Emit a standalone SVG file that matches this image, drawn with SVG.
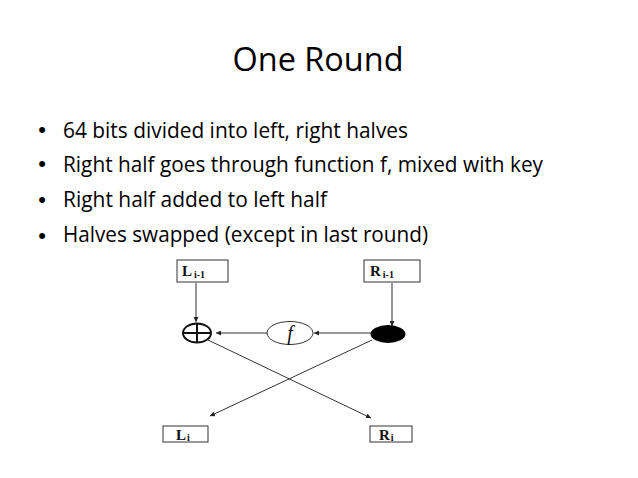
<svg xmlns="http://www.w3.org/2000/svg" width="638" height="478" viewBox="0 0 638 478">
<defs>
<marker id="arr" viewBox="0 0 6 6" refX="6" refY="3" markerWidth="5" markerHeight="5" orient="auto" markerUnits="userSpaceOnUse">
<path d="M0,0 L6,3 L0,6 z" fill="#222"/>
</marker>
<style>
.title{font-family:"Open Sans","Liberation Sans",sans-serif;font-size:32px;fill:#000}
.body{font-family:"Open Sans","Liberation Sans",sans-serif;font-size:21px;fill:#000}
.bul{font-family:"Liberation Sans",sans-serif;font-size:22px;fill:#000}
.box{fill:#fff;stroke:#333;stroke-width:1}
.lbl{font-family:"Liberation Serif",serif;font-size:15px;fill:#111;font-weight:bold}
.sub{font-size:10px}
.ln{stroke:#333;stroke-width:1;fill:none}
</style>
</defs>
<rect width="638" height="478" fill="#fff"/>
<text class="title" x="318" y="71" text-anchor="middle" textLength="171" lengthAdjust="spacingAndGlyphs">One Round</text>
<g id="bullets">
<text class="bul" x="42" y="137" text-anchor="middle">•</text>
<text class="body" x="63" y="138" textLength="345" lengthAdjust="spacingAndGlyphs">64 bits divided into left, right halves</text>
<text class="bul" x="42" y="171" text-anchor="middle">•</text>
<text class="body" x="63" y="172" textLength="480" lengthAdjust="spacingAndGlyphs">Right half goes through function f, mixed with key</text>
<text class="bul" x="42" y="207" text-anchor="middle">•</text>
<text class="body" x="63" y="207" textLength="264" lengthAdjust="spacingAndGlyphs">Right half added to left half</text>
<text class="bul" x="42" y="243" text-anchor="middle">•</text>
<text class="body" x="63" y="242" textLength="365" lengthAdjust="spacingAndGlyphs">Halves swapped (except in last round)</text>
</g>
<g id="connectors">
<line class="ln" x1="196" y1="283" x2="196" y2="322" marker-end="url(#arr)"/>
<line class="ln" x1="392" y1="283" x2="392" y2="326" marker-end="url(#arr)"/>
<line class="ln" x1="371" y1="333" x2="314" y2="333" marker-end="url(#arr)"/>
<line class="ln" x1="267" y1="333" x2="216" y2="333" marker-end="url(#arr)"/>
<line class="ln" x1="208" y1="340" x2="371" y2="418" marker-end="url(#arr)"/>
<line class="ln" x1="372" y1="340" x2="210" y2="416" marker-end="url(#arr)"/>
</g>
<g id="L_prev">
<rect class="box" x="177" y="260" width="51" height="22"/>
<text class="lbl" x="182" y="276">L<tspan class="sub" dy="2" dx="2">i-1</tspan></text>
</g>
<g id="R_prev">
<rect class="box" x="364" y="260" width="56" height="22"/>
<text class="lbl" x="370" y="276">R<tspan class="sub" dy="2" dx="2">i-1</tspan></text>
</g>
<g id="xor">
<ellipse cx="197" cy="333" rx="14" ry="9.5" fill="#fff" stroke="#111" stroke-width="2"/>
<line x1="183" y1="333" x2="211" y2="333" stroke="#111" stroke-width="2"/>
<line x1="197" y1="323.5" x2="197" y2="342.5" stroke="#111" stroke-width="2"/>
</g>
<g id="f">
<ellipse cx="290" cy="333" rx="23" ry="11.5" fill="#fff" stroke="#333" stroke-width="1"/>
<text x="290" y="340" text-anchor="middle" font-family="Liberation Serif,serif" font-style="italic" font-size="20" fill="#111">f</text>
</g>
<g id="split">
<ellipse cx="388" cy="334" rx="17.5" ry="9" fill="#000"/>
</g>
<g id="L_i">
<rect class="box" x="163" y="426" width="45" height="16"/>
<text class="lbl" x="176" y="440">L<tspan class="sub" dy="1" dx="1">i</tspan></text>
</g>
<g id="R_i">
<rect class="box" x="370" y="426" width="42" height="16"/>
<text class="lbl" x="379" y="440">R<tspan class="sub" dy="1" dx="1">i</tspan></text>
</g>
</svg>
